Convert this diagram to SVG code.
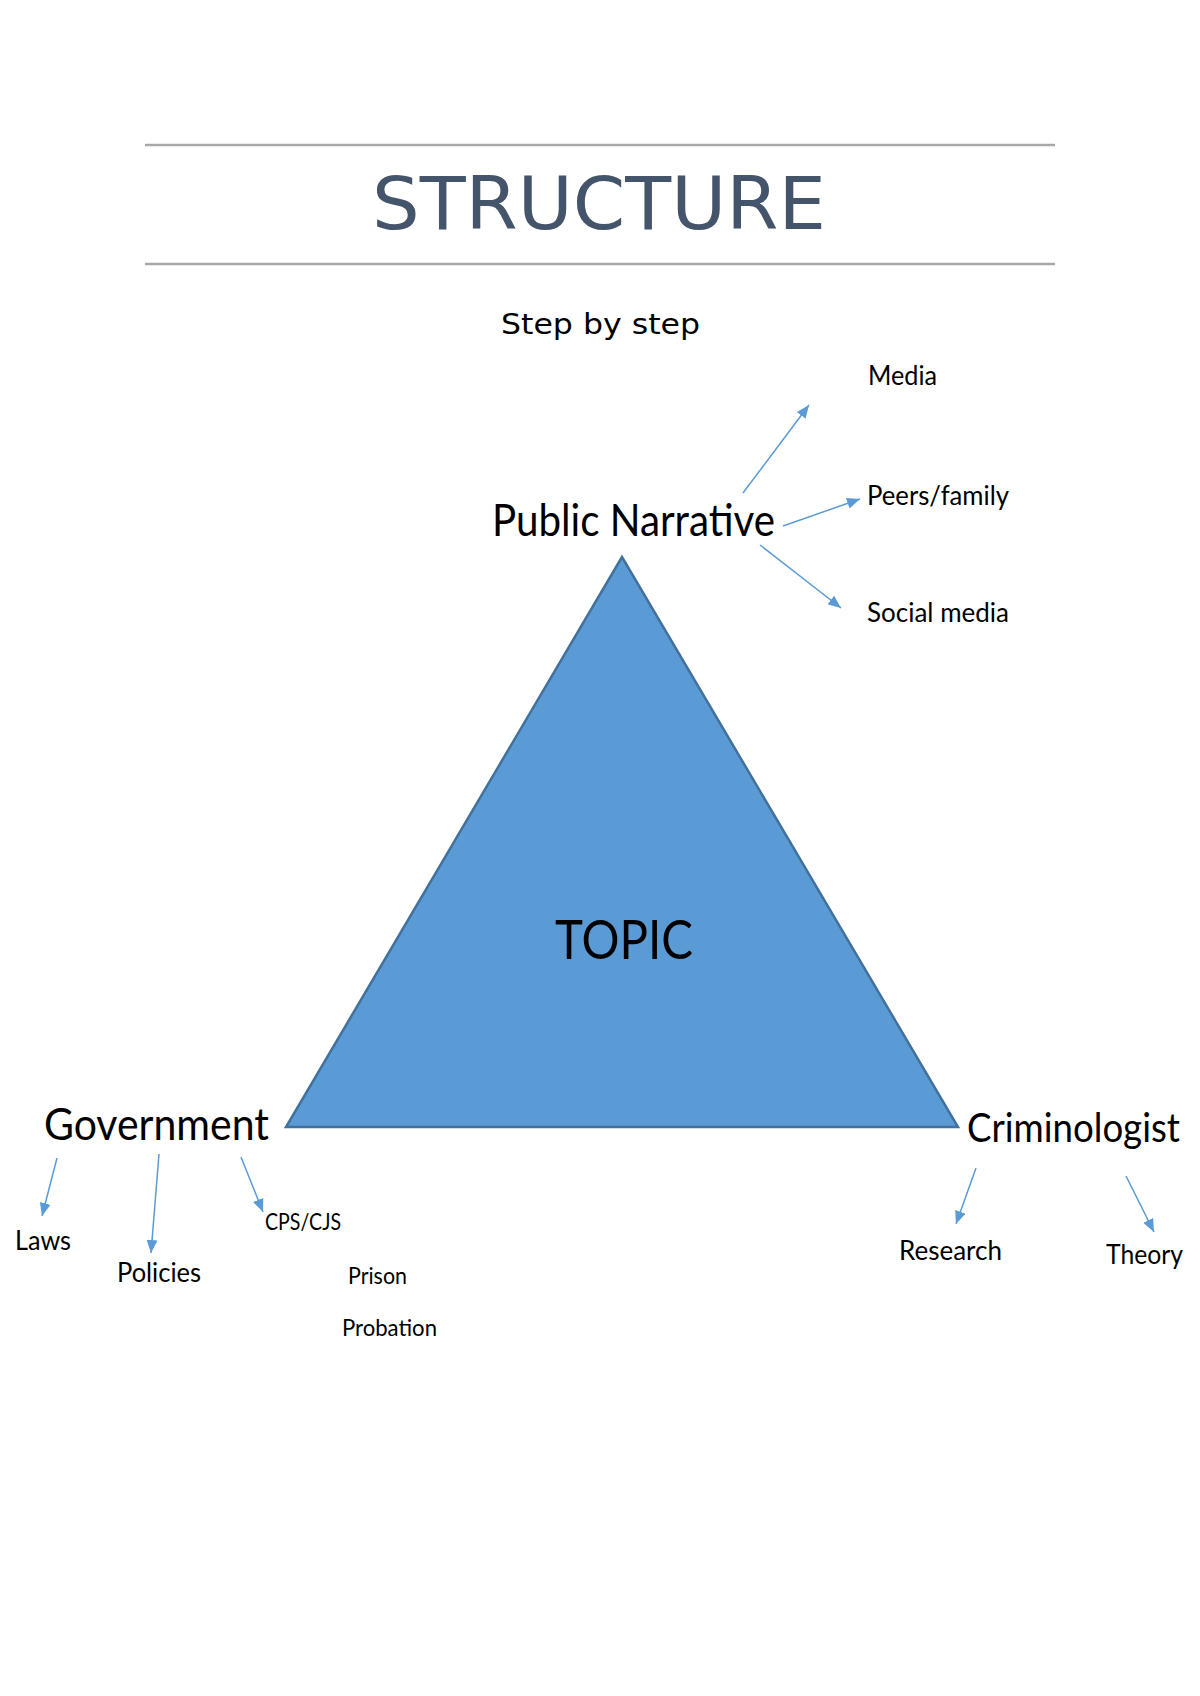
<svg xmlns="http://www.w3.org/2000/svg" width="1200" height="1696" viewBox="0 0 1200 1696">
<style>
  .rule { stroke: #A8A8A8; stroke-width: 2.5; }
  .title { font-family: "DejaVu Sans", sans-serif; fill: #44546A; }
  .sub { font-family: "DejaVu Sans", sans-serif; fill: #000; }
  .lbl { font-family: Lato, "Liberation Sans", sans-serif; fill: #000; }
  .conn { stroke: #5B9BD5; stroke-width: 1.5; fill: none; marker-end: url(#arrow); }
</style>
<defs>
  <marker id="arrow" markerUnits="userSpaceOnUse" markerWidth="13" markerHeight="11" refX="13" refY="5.5" orient="auto">
    <path d="M0,0 L13,5.5 L0,11 z" fill="#5B9BD5"/>
  </marker>
</defs>
<rect width="1200" height="1696" fill="#fff"/>

<g id="header">
  <line class="rule" x1="145" y1="145" x2="1055" y2="145"/>
  <text class="title" x="372" y="229" font-size="73" textLength="454" lengthAdjust="spacingAndGlyphs">STRUCTURE</text>
  <line class="rule" x1="145" y1="264" x2="1055" y2="264"/>
  <text class="sub" x="501" y="334" font-size="29" textLength="199" lengthAdjust="spacingAndGlyphs">Step by step</text>
</g>

<g id="topic">
  <polygon points="622,557 286,1127 958,1127" fill="#5B9BD5" stroke="#41719C" stroke-width="2.5" stroke-linejoin="miter"/>
  <text class="lbl" x="555" y="959" font-size="54" textLength="138" lengthAdjust="spacingAndGlyphs">TOPIC</text>
</g>

<g id="public-narrative">
  <text class="lbl" x="492" y="536" font-size="44" textLength="283" lengthAdjust="spacingAndGlyphs">Public Narrative</text>
</g>
<g id="media">
  <text class="lbl" x="868" y="385" font-size="27" textLength="69" lengthAdjust="spacingAndGlyphs">Media</text>
</g>
<g id="peers-family">
  <text class="lbl" x="867" y="505" font-size="27" textLength="142" lengthAdjust="spacingAndGlyphs">Peers/family</text>
</g>
<g id="social-media">
  <text class="lbl" x="867" y="622" font-size="27" textLength="142" lengthAdjust="spacingAndGlyphs">Social media</text>
</g>

<g id="government">
  <text class="lbl" x="44" y="1140" font-size="44" textLength="225" lengthAdjust="spacingAndGlyphs">Government</text>
</g>
<g id="laws">
  <text class="lbl" x="15" y="1250" font-size="27" textLength="56" lengthAdjust="spacingAndGlyphs">Laws</text>
</g>
<g id="policies">
  <text class="lbl" x="117" y="1282" font-size="27" textLength="84" lengthAdjust="spacingAndGlyphs">Policies</text>
</g>
<g id="cps-cjs">
  <text class="lbl" x="265" y="1230" font-size="23" textLength="76" lengthAdjust="spacingAndGlyphs">CPS/CJS</text>
</g>
<g id="prison">
  <text class="lbl" x="348" y="1284" font-size="24" textLength="59" lengthAdjust="spacingAndGlyphs">Prison</text>
</g>
<g id="probation">
  <text class="lbl" x="342" y="1336" font-size="24" textLength="95" lengthAdjust="spacingAndGlyphs">Probation</text>
</g>

<g id="criminologist">
  <text class="lbl" x="967" y="1142" font-size="41" textLength="213" lengthAdjust="spacingAndGlyphs">Criminologist</text>
</g>
<g id="research">
  <text class="lbl" x="899" y="1260" font-size="27" textLength="103" lengthAdjust="spacingAndGlyphs">Research</text>
</g>
<g id="theory">
  <text class="lbl" x="1106" y="1264" font-size="27" textLength="77" lengthAdjust="spacingAndGlyphs">Theory</text>
</g>

<g id="connectors">
  <line class="conn" x1="743" y1="493" x2="809" y2="405"/>
  <line class="conn" x1="783" y1="526" x2="860" y2="499"/>
  <line class="conn" x1="760" y1="545" x2="841" y2="608"/>
  <line class="conn" x1="57" y1="1158" x2="42" y2="1216"/>
  <line class="conn" x1="159" y1="1154" x2="151" y2="1253"/>
  <line class="conn" x1="241" y1="1157" x2="263" y2="1212"/>
  <line class="conn" x1="976" y1="1168" x2="956" y2="1224"/>
  <line class="conn" x1="1126" y1="1176" x2="1154" y2="1232"/>
</g>
</svg>
